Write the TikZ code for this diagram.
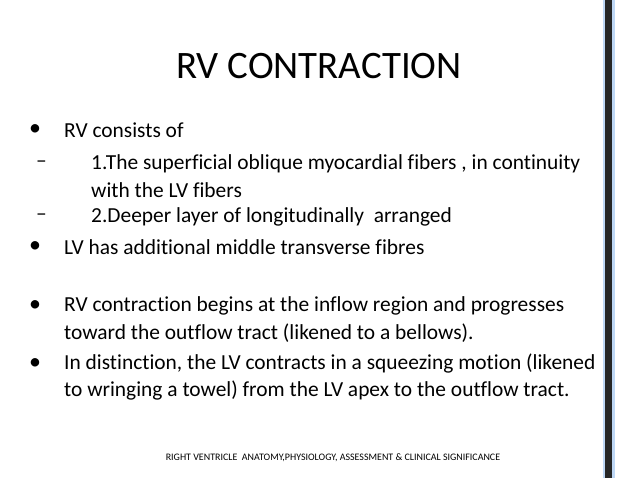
\documentclass[tikz,border=0pt]{standalone}
\usepackage{fontspec}
\setmainfont[Ligatures=NoCommon]{Carlito}
\definecolor{barblue}{RGB}{190,215,245}
\tikzset{
  slidetext/.style={anchor=west, inner sep=0, font=\fontsize{21.5}{25}\selectfont},
  bulletmark/.style={anchor=west, inner sep=0, font=\fontsize{24}{25}\selectfont},
}
\begin{document}
\begin{tikzpicture}[x=1bp, y=-1bp]
  \useasboundingbox[fill=white] (0,0) rectangle (638,478);
  % side bar
  \fill[barblue] (603,0) rectangle (615,478);
  \fill[black!85] (605,0) rectangle (612,478);
  % title
  \node[inner sep=0, font=\fontsize{39}{44}\selectfont] (title) at (319,66) {RV CONTRACTION};
  % bullets
  \foreach \y/\t in {130/RV consists of, 247/LV has additional middle transverse fibres,
      306/RV contraction begins at the inflow region and progresses,
      364/{In distinction, the LV contracts in a squeezing motion (likened}}{
    \node[bulletmark] at (29,\y) {•};
    \node[slidetext] at (64,\y) {\t};
  }
  \node[slidetext] (l1) at (64,333) {toward the outflow tract (likened to a bellows).};
  \node[slidetext] (l2) at (64,391) {to wringing a towel) from the LV apex to the outflow tract.};
  % sub items
  \foreach \y/\t in {164/{1.The superficial oblique myocardial fibers , in continuity}, 217/{2.Deeper layer of longitudinally\ \ arranged}}{
    \node[slidetext] at (36,\y) {–};
    \node[slidetext] at (91,\y) {\t};
  }
  \node[slidetext] (s1) at (91,190) {with the LV fibers};
  % footer
  \node[inner sep=0, font=\fontsize{10}{12}\selectfont] (foot) at (333,458) {RIGHT VENTRICLE\ \ ANATOMY,PHYSIOLOGY, ASSESSMENT \& CLINICAL SIGNIFICANCE};
\end{tikzpicture}
\end{document}
